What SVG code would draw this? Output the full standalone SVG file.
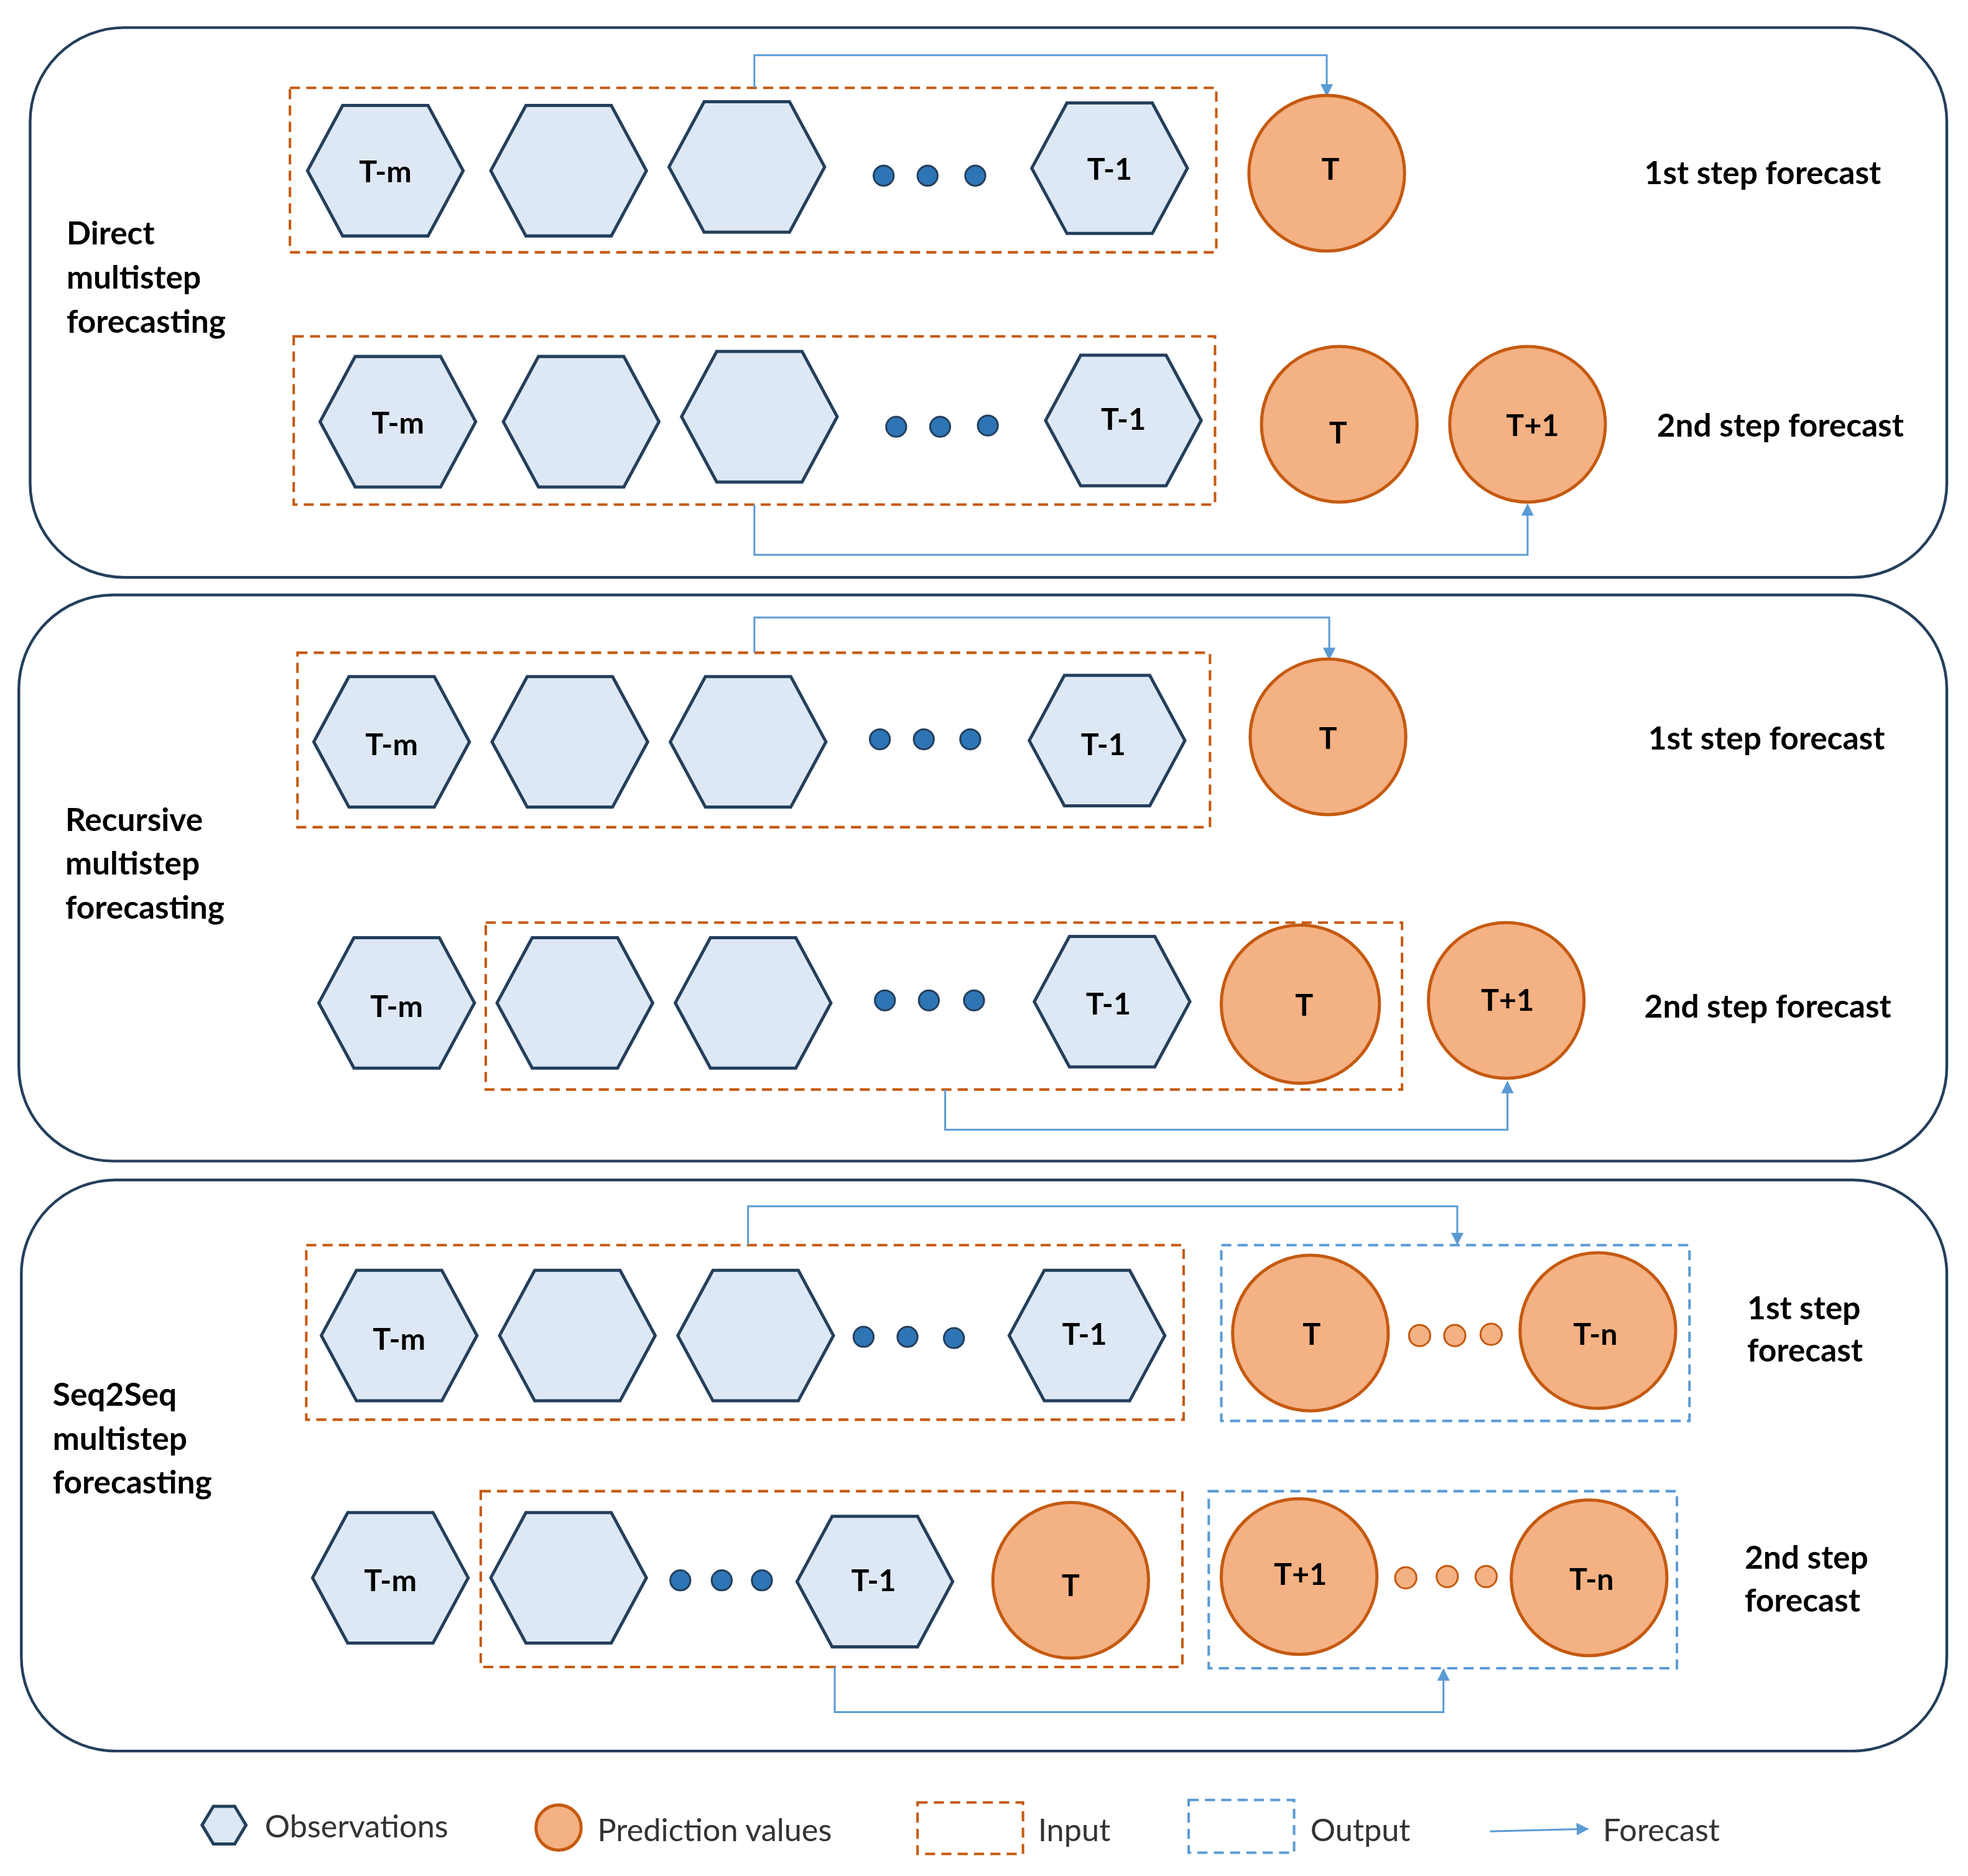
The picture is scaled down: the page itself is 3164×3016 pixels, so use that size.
<svg xmlns="http://www.w3.org/2000/svg" width="3164" height="3016" viewBox="0 0 3164 3016">
<defs>
<style>
.panel{fill:#fff;stroke:#243f5c;stroke-width:2.2}
.hex{fill:#dde8f4;stroke:#243f5c;stroke-width:2.5}
.circ{fill:#f4b183;stroke:#c55a11;stroke-width:2.5}
.bdot{fill:#2e75b6;stroke:#243f5c;stroke-width:1.5}
.odot{fill:#f4b183;stroke:#c55a11;stroke-width:1.5}
.inbox{fill:none;stroke:#c55a11;stroke-width:2;stroke-dasharray:8 5}
.outbox{fill:none;stroke:#5b9bd5;stroke-width:2;stroke-dasharray:8 5}
.conn{fill:none;stroke:#5b9bd5;stroke-width:1.5;marker-end:url(#ah)}
.lbl{font-family:Lato,"Liberation Sans",sans-serif;font-weight:bold;font-size:24px;fill:#000;text-anchor:middle;dominant-baseline:central}
.side{font-family:Lato,"Liberation Sans",sans-serif;font-weight:bold;font-size:25.5px;fill:#000;dominant-baseline:central}
.leg{font-family:Lato,"Liberation Sans",sans-serif;font-size:25px;fill:#333;dominant-baseline:central}
</style>
<marker id="ah" markerWidth="10" markerHeight="10" refX="9" refY="5" orient="auto" markerUnits="userSpaceOnUse"><path d="M0,0 L10,5 L0,10 z" fill="#5b9bd5"/></marker>
<polygon id="hx" points="-62,0 -34,-52 34,-52 62,0 34,52 -34,52"/>
</defs>
<rect width="3164" height="3016" fill="#fff"/>
<g transform="scale(2.018)">
<g id="panels">
<rect class="panel" x="24" y="22" width="1527" height="438" rx="75"/>
<rect class="panel" x="15" y="474" width="1536" height="451" rx="75"/>
<rect class="panel" x="17" y="940" width="1534" height="455" rx="75"/>
</g>
<g id="boxes">
<rect class="inbox" x="231" y="70" width="738" height="131"/>
<rect class="inbox" x="234" y="268" width="734" height="134"/>
<rect class="inbox" x="237" y="520" width="727" height="139"/>
<rect class="inbox" x="387" y="735" width="730" height="133"/>
<rect class="inbox" x="244" y="992" width="699" height="139"/>
<rect class="outbox" x="973" y="992" width="373" height="140"/>
<rect class="inbox" x="383" y="1188" width="559" height="140"/>
<rect class="outbox" x="963" y="1188" width="373" height="141"/>
</g>
<g id="connectors">
<path class="conn" d="M601,70 V44 H1057 V76"/>
<path class="conn" d="M601,402 V442 H1217 V402"/>
<path class="conn" d="M601,520 V492 H1059 V525"/>
<path class="conn" d="M753,868 V900 H1201 V862"/>
<path class="conn" d="M596,992 V961 H1161 V991"/>
<path class="conn" d="M665,1328 V1364 H1150 V1330"/>
</g>
<g id="hexagons">
<g id="p1r1h1"><use href="#hx" class="hex" x="307" y="136"/><text class="lbl" x="307" y="136">T-m</text></g>
<g id="p1r1h2"><use href="#hx" class="hex" x="453" y="136"/></g>
<g id="p1r1h3"><use href="#hx" class="hex" x="595" y="133"/></g>
<g id="p1r1h4"><use href="#hx" class="hex" x="884" y="134"/><text class="lbl" x="884" y="134">T-1</text></g>
<g id="p1r2h1"><use href="#hx" class="hex" x="317" y="336"/><text class="lbl" x="317" y="336">T-m</text></g>
<g id="p1r2h2"><use href="#hx" class="hex" x="463" y="336"/></g>
<g id="p1r2h3"><use href="#hx" class="hex" x="605" y="332"/></g>
<g id="p1r2h4"><use href="#hx" class="hex" x="895" y="335"/><text class="lbl" x="895" y="333">T-1</text></g>
<g id="p2r1h1"><use href="#hx" class="hex" x="312" y="591"/><text class="lbl" x="312" y="592">T-m</text></g>
<g id="p2r1h2"><use href="#hx" class="hex" x="454" y="591"/></g>
<g id="p2r1h3"><use href="#hx" class="hex" x="596" y="591"/></g>
<g id="p2r1h4"><use href="#hx" class="hex" x="882" y="590"/><text class="lbl" x="879" y="592">T-1</text></g>
<g id="p2r2h1"><use href="#hx" class="hex" x="316" y="799"/><text class="lbl" x="316" y="801">T-m</text></g>
<g id="p2r2h2"><use href="#hx" class="hex" x="458" y="799"/></g>
<g id="p2r2h3"><use href="#hx" class="hex" x="600" y="799"/></g>
<g id="p2r2h4"><use href="#hx" class="hex" x="886" y="798"/><text class="lbl" x="883" y="799">T-1</text></g>
<g id="p3r1h1"><use href="#hx" class="hex" x="318" y="1064"/><text class="lbl" x="318" y="1066">T-m</text></g>
<g id="p3r1h2"><use href="#hx" class="hex" x="460" y="1064"/></g>
<g id="p3r1h3"><use href="#hx" class="hex" x="602" y="1064"/></g>
<g id="p3r1h4"><use href="#hx" class="hex" x="866" y="1064"/><text class="lbl" x="864" y="1062">T-1</text></g>
<g id="p3r2h1"><use href="#hx" class="hex" x="311" y="1257"/><text class="lbl" x="311" y="1258">T-m</text></g>
<g id="p3r2h2"><use href="#hx" class="hex" x="453" y="1257"/></g>
<g id="p3r2h3"><use href="#hx" class="hex" x="697" y="1260"/><text class="lbl" x="696" y="1258">T-1</text></g>
</g>
<g id="circles">
<g id="p1c1"><circle class="circ" cx="1057" cy="138" r="62"/><text class="lbl" x="1060" y="134">T</text></g>
<g id="p1c2"><circle class="circ" cx="1067" cy="338" r="62"/><text class="lbl" x="1066" y="344">T</text></g>
<g id="p1c3"><circle class="circ" cx="1217" cy="338" r="62"/><text class="lbl" x="1221" y="338">T+1</text></g>
<g id="p2c1"><circle class="circ" cx="1058" cy="587" r="62"/><text class="lbl" x="1058" y="587">T</text></g>
<g id="p2c2"><circle class="circ" cx="1036" cy="800" r="63"/><text class="lbl" x="1039" y="800">T</text></g>
<g id="p2c3"><circle class="circ" cx="1200" cy="797" r="62"/><text class="lbl" x="1201" y="796">T+1</text></g>
<g id="p3c1"><circle class="circ" cx="1044" cy="1062" r="62"/><text class="lbl" x="1045" y="1062">T</text></g>
<g id="p3c2"><circle class="circ" cx="1273" cy="1060" r="62"/><text class="lbl" x="1271" y="1062">T-n</text></g>
<g id="p3c3"><circle class="circ" cx="853" cy="1259" r="62"/><text class="lbl" x="853" y="1262">T</text></g>
<g id="p3c4"><circle class="circ" cx="1035" cy="1256" r="62"/><text class="lbl" x="1036" y="1253">T+1</text></g>
<g id="p3c5"><circle class="circ" cx="1266" cy="1257" r="62"/><text class="lbl" x="1268" y="1257">T-n</text></g>
</g>
<g id="dots">
<circle class="bdot" cx="704" cy="140" r="8"/><circle class="bdot" cx="739" cy="140" r="8"/><circle class="bdot" cx="777" cy="140" r="8"/>
<circle class="bdot" cx="714" cy="340" r="8"/><circle class="bdot" cx="749" cy="340" r="8"/><circle class="bdot" cx="787" cy="339" r="8"/>
<circle class="bdot" cx="701" cy="589" r="8"/><circle class="bdot" cx="736" cy="589" r="8"/><circle class="bdot" cx="773" cy="589" r="8"/>
<circle class="bdot" cx="705" cy="797" r="8"/><circle class="bdot" cx="740" cy="797" r="8"/><circle class="bdot" cx="776" cy="797" r="8"/>
<circle class="bdot" cx="688" cy="1065" r="8"/><circle class="bdot" cx="723" cy="1065" r="8"/><circle class="bdot" cx="760" cy="1066" r="8"/>
<circle class="bdot" cx="542" cy="1259" r="8"/><circle class="bdot" cx="575" cy="1259" r="8"/><circle class="bdot" cx="607" cy="1259" r="8"/>
<circle class="odot" cx="1131" cy="1064" r="8.5"/><circle class="odot" cx="1159" cy="1064" r="8.5"/><circle class="odot" cx="1188" cy="1063" r="8.5"/>
<circle class="odot" cx="1120" cy="1257" r="8.5"/><circle class="odot" cx="1153" cy="1256" r="8.5"/><circle class="odot" cx="1184" cy="1256" r="8.5"/>
</g>
<g id="labels">
<text class="side" x="53" y="185">Direct</text><text class="side" x="53" y="220">multistep</text><text class="side" x="53" y="255">forecasting</text>
<text class="side" x="52" y="652">Recursive</text><text class="side" x="52" y="687">multistep</text><text class="side" x="52" y="722">forecasting</text>
<text class="side" x="42" y="1110">Seq2Seq</text><text class="side" x="42" y="1145">multistep</text><text class="side" x="42" y="1180">forecasting</text>
<text class="side" x="1310" y="137">1st step forecast</text>
<text class="side" x="1320" y="338">2nd step forecast</text>
<text class="side" x="1313" y="587">1st step forecast</text>
<text class="side" x="1310" y="801">2nd step forecast</text>
<text class="side" x="1392" y="1041">1st step</text><text class="side" x="1392" y="1075">forecast</text>
<text class="side" x="1390" y="1240">2nd step</text><text class="side" x="1390" y="1274">forecast</text>
</g>
<g id="legend">
<polygon class="hex" points="161,1454 170,1439 187,1439 196,1454 187,1469 170,1469" stroke-width="2"/>
<text class="leg" x="211" y="1454">Observations</text>
<circle class="circ" cx="445" cy="1456" r="18" stroke-width="2"/>
<text class="leg" x="476" y="1457">Prediction values</text>
<rect class="inbox" x="731" y="1436" width="84" height="41"/>
<text class="leg" x="827" y="1457">Input</text>
<rect class="outbox" x="947" y="1434" width="84" height="42"/>
<text class="leg" x="1044" y="1457">Output</text>
<path class="conn" d="M1187,1459 L1265,1457"/>
<text class="leg" x="1277" y="1457">Forecast</text>
</g>
</g>
</svg>
